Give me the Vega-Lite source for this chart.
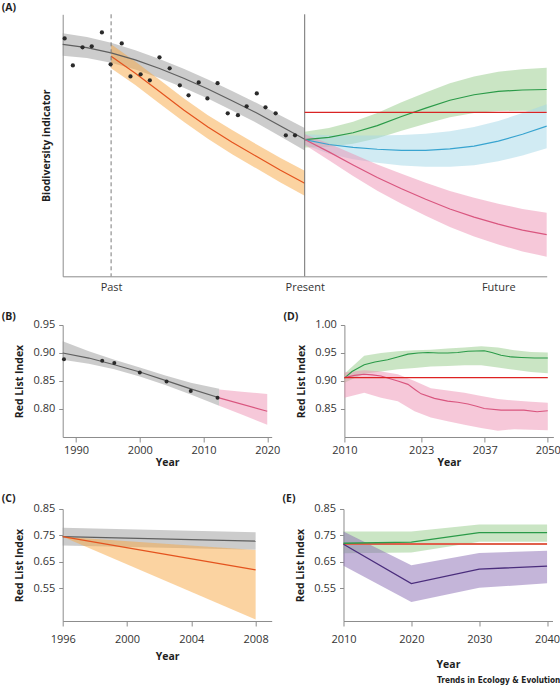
{
 "$schema": "https://vega.github.io/schema/vega-lite/v6.json",
 "padding": {"left": 1.7, "top": 2.3, "right": 0, "bottom": 0},
 "background": "white",
 "config": {
  "view": {"stroke": null},
  "font": "Open Sans",
  "axis": {"grid": false, "domainColor": "#8c8c8c", "tickColor": "#8c8c8c", "labelColor": "#333333", "labelFont": "Open Sans", "labelFontSize": 11, "titleFont": "Open Sans", "titleFontSize": 10.5, "titleFontWeight": "bold", "titleColor": "#1e1e1e", "minExtent": 0, "labelFlush": false, "labelOverlap": false},
  "title": {"anchor": "start", "frame": "group", "font": "Open Sans", "fontSize": 10.5, "fontWeight": "bold", "color": "#1e1e1e", "dx": -61}
 },
 "title": {"text": "Trends in Ecology & Evolution", "orient": "bottom", "anchor": "end", "frame": "bounds", "dx": 0, "offset": 7, "font": "Liberation Sans Narrow, DejaVu Sans Condensed, sans-serif", "fontSize": 8.2, "fontWeight": "bold", "color": "#222222"},
 "datasets": {
  "a_c": [
   {"s":"gray","x":0,"v":88.5,"lo":84.2,"hi":92.8},
   {"s":"gray","x":5,"v":87.3,"lo":83.3,"hi":91.3},
   {"s":"gray","x":10,"v":85.3,"lo":81.5,"hi":89.1},
   {"s":"gray","x":15,"v":82.6,"lo":78.9,"hi":86.3},
   {"s":"gray","x":20,"v":79.3,"lo":75.7,"hi":82.9},
   {"s":"gray","x":25,"v":75.6,"lo":72.0,"hi":79.2},
   {"s":"gray","x":30,"v":71.5,"lo":67.9,"hi":75.1},
   {"s":"gray","x":35,"v":67.0,"lo":63.3,"hi":70.7},
   {"s":"gray","x":40,"v":62.4,"lo":58.6,"hi":66.2},
   {"s":"gray","x":45,"v":57.4,"lo":53.4,"hi":61.4},
   {"s":"gray","x":50,"v":52.3,"lo":48.0,"hi":56.6},
   {"s":"orange","x":10,"v":84.0,"lo":79.4,"hi":88.6},
   {"s":"orange","x":15,"v":77.5,"lo":73.0,"hi":82.0},
   {"s":"orange","x":20,"v":70.5,"lo":66.0,"hi":75.0},
   {"s":"orange","x":25,"v":63.5,"lo":59.0,"hi":68.0},
   {"s":"orange","x":30,"v":57.0,"lo":52.5,"hi":61.5},
   {"s":"orange","x":35,"v":51.2,"lo":46.6,"hi":55.8},
   {"s":"orange","x":40,"v":45.8,"lo":41.2,"hi":50.4},
   {"s":"orange","x":45,"v":40.5,"lo":35.8,"hi":45.2},
   {"s":"orange","x":50,"v":35.5,"lo":30.7,"hi":40.3},
   {"s":"green","x":50,"v":52.2,"lo":49.2,"hi":55.2},
   {"s":"green","x":55,"v":53.0,"lo":49.4,"hi":56.6},
   {"s":"green","x":60,"v":54.8,"lo":50.6,"hi":59.0},
   {"s":"green","x":65,"v":57.5,"lo":52.7,"hi":62.3},
   {"s":"green","x":70,"v":61.0,"lo":55.6,"hi":66.4},
   {"s":"green","x":75,"v":64.2,"lo":58.2,"hi":70.2},
   {"s":"green","x":80,"v":67.2,"lo":60.7,"hi":73.7},
   {"s":"green","x":85,"v":69.3,"lo":62.3,"hi":76.3},
   {"s":"green","x":90,"v":70.6,"lo":63.1,"hi":78.1},
   {"s":"green","x":95,"v":71.1,"lo":63.2,"hi":79.0},
   {"s":"green","x":100,"v":71.3,"lo":63.0,"hi":79.6},
   {"s":"blue","x":50,"v":52.2,"lo":50.2,"hi":54.2},
   {"s":"blue","x":55,"v":50.3,"lo":46.8,"hi":53.8},
   {"s":"blue","x":60,"v":49.2,"lo":44.7,"hi":53.7},
   {"s":"blue","x":65,"v":48.5,"lo":43.3,"hi":53.7},
   {"s":"blue","x":70,"v":48.1,"lo":42.3,"hi":53.9},
   {"s":"blue","x":75,"v":48.1,"lo":41.8,"hi":54.4},
   {"s":"blue","x":80,"v":48.6,"lo":41.8,"hi":55.4},
   {"s":"blue","x":85,"v":49.7,"lo":42.4,"hi":57.0},
   {"s":"blue","x":90,"v":51.6,"lo":43.9,"hi":59.3},
   {"s":"blue","x":95,"v":54.2,"lo":46.1,"hi":62.3},
   {"s":"blue","x":100,"v":57.3,"lo":48.9,"hi":65.7},
   {"s":"pink","x":50,"v":52.2,"lo":50.2,"hi":54.2},
   {"s":"pink","x":55,"v":47.5,"lo":44.3,"hi":50.7},
   {"s":"pink","x":60,"v":42.5,"lo":38.3,"hi":46.7},
   {"s":"pink","x":65,"v":37.7,"lo":32.7,"hi":42.7},
   {"s":"pink","x":70,"v":33.4,"lo":27.7,"hi":39.1},
   {"s":"pink","x":75,"v":29.4,"lo":23.1,"hi":35.7},
   {"s":"pink","x":80,"v":25.7,"lo":18.8,"hi":32.6},
   {"s":"pink","x":85,"v":22.6,"lo":15.2,"hi":30.0},
   {"s":"pink","x":90,"v":19.9,"lo":12.1,"hi":27.7},
   {"s":"pink","x":95,"v":17.6,"lo":9.5,"hi":25.7},
   {"s":"pink","x":100,"v":15.9,"lo":7.5,"hi":24.3}
  ],
  "a_p": [
   {"x":0.4,"v":90.8},{"x":2.1,"v":80.5},{"x":4.1,"v":87.4},{"x":6.0,"v":87.8},{"x":8.1,"v":93.1},
   {"x":9.9,"v":80.9},{"x":12.2,"v":88.9},{"x":14.0,"v":76.3},{"x":16.1,"v":77.1},{"x":18.0,"v":74.8},
   {"x":20.0,"v":83.6},{"x":22.1,"v":79.4},{"x":24.2,"v":72.9},{"x":26.0,"v":69.1},{"x":28.1,"v":74.0},
   {"x":29.9,"v":67.9},{"x":32.0,"v":73.7},{"x":34.1,"v":62.2},{"x":36.2,"v":61.5},{"x":38.0,"v":64.9},
   {"x":40.1,"v":69.8},{"x":41.9,"v":64.5},{"x":44.0,"v":62.2},{"x":46.1,"v":53.8},{"x":48.0,"v":53.8}
  ],
  "a_past": [{"x": 10}],
  "a_pres": [{"x": 50}],
  "a_red": [{"x": 50, "v": 62.6}, {"x": 100, "v": 62.6}],
  "b_band": [
   {"s":"gray","x":1987.9,"lo":0.888,"hi":0.921},
   {"s":"gray","x":1992,"lo":0.881,"hi":0.903},
   {"s":"gray","x":1996,"lo":0.871,"hi":0.888},
   {"s":"gray","x":2000,"lo":0.858,"hi":0.874},
   {"s":"gray","x":2004,"lo":0.843,"hi":0.860},
   {"s":"gray","x":2008,"lo":0.826,"hi":0.847},
   {"s":"gray","x":2012.45,"lo":0.806,"hi":0.836},
   {"s":"pink","x":2012.45,"lo":0.806,"hi":0.835},
   {"s":"pink","x":2016,"lo":0.790,"hi":0.831},
   {"s":"pink","x":2020,"lo":0.772,"hi":0.827}
  ],
  "b_line": [
   {"s":"gray","x":1987.9,"v":0.900},
   {"s":"gray","x":1992,"v":0.891},
   {"s":"gray","x":1996,"v":0.879},
   {"s":"gray","x":2000,"v":0.866},
   {"s":"gray","x":2004,"v":0.851},
   {"s":"gray","x":2008,"v":0.836},
   {"s":"gray","x":2012.45,"v":0.820},
   {"s":"pink","x":2012.45,"v":0.820},
   {"s":"pink","x":2020,"v":0.796}
  ],
  "b_p": [
   {"x":1988.1,"v":0.889},{"x":1994.1,"v":0.886},{"x":1996.0,"v":0.882},{"x":2000.0,"v":0.865},
   {"x":2004.2,"v":0.849},{"x":2008.0,"v":0.832},{"x":2012.2,"v":0.820}
  ],
  "d_band": [
   {"s":"green","x":2010,"lo":0.897,"hi":0.913},
   {"s":"green","x":2013.9,"lo":0.913,"hi":0.945},
   {"s":"green","x":2017.2,"lo":0.917,"hi":0.950},
   {"s":"green","x":2020.5,"lo":0.921,"hi":0.953},
   {"s":"green","x":2023.8,"lo":0.923,"hi":0.955},
   {"s":"green","x":2027,"lo":0.926,"hi":0.956},
   {"s":"green","x":2030.3,"lo":0.927,"hi":0.958},
   {"s":"green","x":2033.6,"lo":0.928,"hi":0.960},
   {"s":"green","x":2036.9,"lo":0.928,"hi":0.962},
   {"s":"green","x":2040.2,"lo":0.924,"hi":0.960},
   {"s":"green","x":2043.4,"lo":0.920,"hi":0.955},
   {"s":"green","x":2046.7,"lo":0.916,"hi":0.952},
   {"s":"green","x":2050,"lo":0.914,"hi":0.951},
   {"s":"pink","x":2010,"lo":0.870,"hi":0.915},
   {"s":"pink","x":2013.9,"lo":0.879,"hi":0.919},
   {"s":"pink","x":2017.2,"lo":0.870,"hi":0.917},
   {"s":"pink","x":2020.5,"lo":0.864,"hi":0.912},
   {"s":"pink","x":2023.8,"lo":0.846,"hi":0.900},
   {"s":"pink","x":2027,"lo":0.835,"hi":0.887},
   {"s":"pink","x":2030.3,"lo":0.828,"hi":0.883},
   {"s":"pink","x":2033.6,"lo":0.822,"hi":0.879},
   {"s":"pink","x":2036.9,"lo":0.816,"hi":0.873},
   {"s":"pink","x":2040.2,"lo":0.811,"hi":0.868},
   {"s":"pink","x":2043.4,"lo":0.814,"hi":0.865},
   {"s":"pink","x":2046.7,"lo":0.813,"hi":0.863},
   {"s":"pink","x":2050,"lo":0.812,"hi":0.861}
  ],
  "d_line": [
   {"s":"green","x":2010,"v":0.905},{"s":"green","x":2011.5,"v":0.917},{"s":"green","x":2013.9,"v":0.929},
   {"s":"green","x":2016,"v":0.934},{"s":"green","x":2018.5,"v":0.938},{"s":"green","x":2020.5,"v":0.943},
   {"s":"green","x":2022.5,"v":0.948},{"s":"green","x":2024.5,"v":0.950},{"s":"green","x":2026.4,"v":0.951},
   {"s":"green","x":2028.5,"v":0.950},{"s":"green","x":2030.3,"v":0.950},{"s":"green","x":2032.3,"v":0.951},
   {"s":"green","x":2034.3,"v":0.953},{"s":"green","x":2037.5,"v":0.954},{"s":"green","x":2039,"v":0.951},
   {"s":"green","x":2040.8,"v":0.946},{"s":"green","x":2042.8,"v":0.943},{"s":"green","x":2044.8,"v":0.942},
   {"s":"green","x":2047.4,"v":0.941},{"s":"green","x":2050,"v":0.941},
   {"s":"pink","x":2010,"v":0.906},{"s":"pink","x":2012,"v":0.910},{"s":"pink","x":2013.9,"v":0.912},
   {"s":"pink","x":2015.5,"v":0.911},{"s":"pink","x":2017.2,"v":0.909},{"s":"pink","x":2019,"v":0.904},
   {"s":"pink","x":2020.5,"v":0.900},{"s":"pink","x":2022.5,"v":0.894},{"s":"pink","x":2024,"v":0.884},
   {"s":"pink","x":2025.1,"v":0.877},{"s":"pink","x":2027.7,"v":0.869},{"s":"pink","x":2030.3,"v":0.864},
   {"s":"pink","x":2032.3,"v":0.862},{"s":"pink","x":2034.3,"v":0.859},{"s":"pink","x":2036,"v":0.855},
   {"s":"pink","x":2037.5,"v":0.851},{"s":"pink","x":2040.8,"v":0.848},{"s":"pink","x":2043,"v":0.848},
   {"s":"pink","x":2045.3,"v":0.848},{"s":"pink","x":2047.9,"v":0.845},{"s":"pink","x":2050,"v":0.847}
  ],
  "d_red": [{"x": 2010, "v": 0.906}, {"x": 2050, "v": 0.906}],
  "c_band": [
   {"s":"gray","x":1996,"lo":0.711,"hi":0.779},
   {"s":"gray","x":2008,"lo":0.695,"hi":0.762},
   {"s":"orange","x":1996,"lo":0.745,"hi":0.745},
   {"s":"orange","x":2008,"lo":0.431,"hi":0.694}
  ],
  "c_line": [
   {"s":"gray","x":1996,"v":0.745},{"s":"gray","x":2008,"v":0.728},
   {"s":"orange","x":1996,"v":0.745},{"s":"orange","x":2008,"v":0.619}
  ],
  "e_band": [
   {"s":"green","x":2010,"lo":0.682,"hi":0.765},
   {"s":"green","x":2020,"lo":0.685,"hi":0.765},
   {"s":"green","x":2030,"lo":0.726,"hi":0.791},
   {"s":"green","x":2040,"lo":0.726,"hi":0.791},
   {"s":"purple","x":2010,"lo":0.635,"hi":0.765},
   {"s":"purple","x":2020,"lo":0.497,"hi":0.637},
   {"s":"purple","x":2030,"lo":0.551,"hi":0.683},
   {"s":"purple","x":2040,"lo":0.568,"hi":0.692}
  ],
  "e_line": [
   {"s":"green","x":2010,"v":0.720},{"s":"green","x":2020,"v":0.724},{"s":"green","x":2030,"v":0.760},{"s":"green","x":2040,"v":0.760},
   {"s":"purple","x":2010,"v":0.716},{"s":"purple","x":2020,"v":0.567},{"s":"purple","x":2030,"v":0.622},{"s":"purple","x":2040,"v":0.633}
  ],
  "e_red": [{"x": 2010, "v": 0.717}, {"x": 2040, "v": 0.717}]
 },
 "spacing": 19.7,
 "vconcat": [
  {"vconcat": [
   {
    "title": {"text": "(A)", "offset": 0.5},
    "width": 484, "height": 262,
    "encoding": {"x": {"field": "x", "type": "quantitative", "title": null, "scale": {"domain": [0, 100], "nice": false, "zero": false}, "axis": {"values": [10, 50, 90], "labelExpr": "datum.value == 10 ? 'Past' : (datum.value == 50 ? 'Present' : 'Future')", "ticks": false, "tickSize": 0, "labelPadding": 5}}},
    "layer": [
     {"data": {"name": "a_c"}, "mark": {"type": "area", "opacity": 0.5},
      "encoding": {
       "y": {"field": "lo", "type": "quantitative", "title": "Biodiversity indicator", "scale": {"domain": [0, 100], "nice": false, "zero": false}, "axis": {"ticks": false, "tickSize": 0, "labels": false, "titlePadding": 11}},
       "y2": {"field": "hi"},
       "fill": {"field": "s", "type": "nominal", "legend": null, "scale": {"domain": ["gray","orange","green","blue","pink","purple"], "range": ["#9a9a9a","#f8a743","#96cc8a","#a3d8e8","#ee92b3","#8a6cb4"]}}
      }},
     {"data": {"name": "a_c"}, "mark": {"type": "line", "strokeWidth": 1.2},
      "encoding": {
       "y": {"field": "v", "type": "quantitative", "title": "Biodiversity indicator", "scale": {"domain": [0, 100], "nice": false, "zero": false}, "axis": {"ticks": false, "tickSize": 0, "labels": false, "titlePadding": 11}},
       "stroke": {"field": "s", "type": "nominal", "legend": null, "scale": {"domain": ["gray","orange","green","blue","pink","purple"], "range": ["#5f5f5f","#e4531e","#2a9a48","#38a4d0","#d9567f","#4a2d7c"]}}
      }},
     {"data": {"name": "a_past"}, "mark": {"type": "rule", "strokeDash": [4, 3], "color": "#7a7a7a", "strokeWidth": 1}, "encoding": {}},
     {"data": {"name": "a_pres"}, "mark": {"type": "rule", "color": "#6e6e6e", "strokeWidth": 1}, "encoding": {}},
     {"data": {"name": "a_p"}, "mark": {"type": "circle", "size": 18, "color": "#2a2a2a", "opacity": 1},
      "encoding": {
       "y": {"field": "v", "type": "quantitative", "title": "Biodiversity indicator", "scale": {"domain": [0, 100], "nice": false, "zero": false}, "axis": {"ticks": false, "tickSize": 0, "labels": false, "titlePadding": 11}}
      }},
     {"data": {"name": "a_red"}, "mark": {"type": "line", "color": "#d92424", "strokeWidth": 1.3},
      "encoding": {
       "y": {"field": "v", "type": "quantitative", "title": "Biodiversity indicator", "scale": {"domain": [0, 100], "nice": false, "zero": false}, "axis": {"ticks": false, "tickSize": 0, "labels": false, "titlePadding": 11}}
      }}
    ]
   }
  ]},
  {"spacing": 25, "vconcat": [
   {"spacing": 2.7, "hconcat": [
    {
     "title": {"text": "(B)", "offset": -3.7},
     "width": 209, "height": 112,
     "encoding": {"x": {"field": "x", "type": "quantitative", "title": "Year", "scale": {"domain": [1987.9, 2020.7], "nice": false, "zero": false}, "axis": {"values": [1990, 2000, 2010, 2020], "format": "d", "tickSize": 5, "labelPadding": 3, "titlePadding": 2}}},
     "layer": [
      {"data": {"name": "b_band"}, "mark": {"type": "area", "opacity": 0.5},
       "encoding": {
        "y": {"field": "lo", "type": "quantitative", "title": "Red List Index", "scale": {"domain": [0.75, 0.95], "nice": false, "zero": false}, "axis": {"values": [0.8, 0.85, 0.9, 0.95], "format": ".2f", "tickSize": 4, "labelPadding": 4, "titlePadding": 8}},
        "y2": {"field": "hi"},
        "fill": {"field": "s", "type": "nominal", "legend": null, "scale": {"domain": ["gray","orange","green","blue","pink","purple"], "range": ["#9a9a9a","#f8a743","#96cc8a","#a3d8e8","#ee92b3","#8a6cb4"]}}
       }},
      {"data": {"name": "b_line"}, "mark": {"type": "line", "strokeWidth": 1.2},
       "encoding": {
        "y": {"field": "v", "type": "quantitative", "title": "Red List Index", "scale": {"domain": [0.75, 0.95], "nice": false, "zero": false}, "axis": {"values": [0.8, 0.85, 0.9, 0.95], "format": ".2f", "tickSize": 4, "labelPadding": 4, "titlePadding": 8}},
        "stroke": {"field": "s", "type": "nominal", "legend": null, "scale": {"domain": ["gray","orange","green","blue","pink","purple"], "range": ["#5f5f5f","#e4531e","#2a9a48","#38a4d0","#d9567f","#4a2d7c"]}}
       }},
      {"data": {"name": "b_p"}, "mark": {"type": "circle", "size": 16, "color": "#2a2a2a", "opacity": 1},
       "encoding": {
        "y": {"field": "v", "type": "quantitative", "title": "Red List Index", "scale": {"domain": [0.75, 0.95], "nice": false, "zero": false}, "axis": {"values": [0.8, 0.85, 0.9, 0.95], "format": ".2f", "tickSize": 4, "labelPadding": 4, "titlePadding": 8}}
       }}
     ]
    },
    {
     "title": {"text": "(D)", "offset": -3.7},
     "width": 209, "height": 112,
     "encoding": {"x": {"field": "x", "type": "quantitative", "title": "Year", "scale": {"domain": [2010, 2051.1], "nice": false, "zero": false}, "axis": {"values": [2010, 2025.1, 2037.6, 2050], "labelExpr": "datum.value < 2020 ? '2010' : (datum.value < 2030 ? '2023' : (datum.value < 2045 ? '2037' : '2050'))", "tickSize": 5, "labelPadding": 3, "titlePadding": 2}}},
     "layer": [
      {"data": {"name": "d_band"}, "mark": {"type": "area", "opacity": 0.5},
       "encoding": {
        "y": {"field": "lo", "type": "quantitative", "title": "Red List Index", "scale": {"domain": [0.8, 1.0], "nice": false, "zero": false}, "axis": {"values": [0.85, 0.9, 0.95, 1.0], "format": ".2f", "tickSize": 4, "labelPadding": 4, "titlePadding": 8}},
        "y2": {"field": "hi"},
        "fill": {"field": "s", "type": "nominal", "legend": null, "scale": {"domain": ["gray","orange","green","blue","pink","purple"], "range": ["#9a9a9a","#f8a743","#96cc8a","#a3d8e8","#ee92b3","#8a6cb4"]}}
       }},
      {"data": {"name": "d_line"}, "mark": {"type": "line", "strokeWidth": 1.1},
       "encoding": {
        "y": {"field": "v", "type": "quantitative", "title": "Red List Index", "scale": {"domain": [0.8, 1.0], "nice": false, "zero": false}, "axis": {"values": [0.85, 0.9, 0.95, 1.0], "format": ".2f", "tickSize": 4, "labelPadding": 4, "titlePadding": 8}},
        "stroke": {"field": "s", "type": "nominal", "legend": null, "scale": {"domain": ["gray","orange","green","blue","pink","purple"], "range": ["#5f5f5f","#e4531e","#2a9a48","#38a4d0","#d9567f","#4a2d7c"]}}
       }},
      {"data": {"name": "d_red"}, "mark": {"type": "line", "color": "#dd2222", "strokeWidth": 1.3},
       "encoding": {
        "y": {"field": "v", "type": "quantitative", "title": "Red List Index", "scale": {"domain": [0.8, 1.0], "nice": false, "zero": false}, "axis": {"values": [0.85, 0.9, 0.95, 1.0], "format": ".2f", "tickSize": 4, "labelPadding": 4, "titlePadding": 8}}
       }}
     ]
    }
   ]},
   {"spacing": 10.8, "hconcat": [
    {
     "title": {"text": "(C)", "offset": -1.8},
     "width": 209, "height": 112,
     "encoding": {"x": {"field": "x", "type": "quantitative", "title": "Year", "scale": {"domain": [1996, 2009], "nice": false, "zero": false}, "axis": {"values": [1996, 2000, 2004, 2008], "format": "d", "tickSize": 5, "labelPadding": 8, "titlePadding": 7}}},
     "layer": [
      {"data": {"name": "c_band"}, "mark": {"type": "area", "opacity": 0.5},
       "encoding": {
        "y": {"field": "lo", "type": "quantitative", "title": "Red List Index", "scale": {"domain": [0.425, 0.85], "nice": false, "zero": false}, "axis": {"values": [0.55, 0.65, 0.75, 0.85], "format": ".2f", "tickSize": 4, "labelPadding": 4, "titlePadding": 8}},
        "y2": {"field": "hi"},
        "fill": {"field": "s", "type": "nominal", "legend": null, "scale": {"domain": ["gray","orange","green","blue","pink","purple"], "range": ["#9a9a9a","#f8a743","#96cc8a","#a3d8e8","#ee92b3","#8a6cb4"]}}
       }},
      {"data": {"name": "c_line"}, "mark": {"type": "line", "strokeWidth": 1.2},
       "encoding": {
        "y": {"field": "v", "type": "quantitative", "title": "Red List Index", "scale": {"domain": [0.425, 0.85], "nice": false, "zero": false}, "axis": {"values": [0.55, 0.65, 0.75, 0.85], "format": ".2f", "tickSize": 4, "labelPadding": 4, "titlePadding": 8}},
        "stroke": {"field": "s", "type": "nominal", "legend": null, "scale": {"domain": ["gray","orange","green","blue","pink","purple"], "range": ["#5f5f5f","#e4531e","#2a9a48","#38a4d0","#d9567f","#4a2d7c"]}}
       }}
     ]
    },
    {
     "title": {"text": "(E)", "offset": -1.8},
     "width": 209, "height": 112,
     "encoding": {"x": {"field": "x", "type": "quantitative", "title": "Year", "scale": {"domain": [2010, 2040.8], "nice": false, "zero": false}, "axis": {"values": [2010, 2020, 2030, 2040], "format": "d", "tickSize": 5, "labelPadding": 8, "titlePadding": 15}}},
     "layer": [
      {"data": {"name": "e_band"}, "mark": {"type": "area", "opacity": 0.5},
       "encoding": {
        "y": {"field": "lo", "type": "quantitative", "title": "Red List Index", "scale": {"domain": [0.425, 0.85], "nice": false, "zero": false}, "axis": {"values": [0.55, 0.65, 0.75, 0.85], "format": ".2f", "tickSize": 4, "labelPadding": 4, "titlePadding": 8}},
        "y2": {"field": "hi"},
        "fill": {"field": "s", "type": "nominal", "legend": null, "scale": {"domain": ["gray","orange","green","blue","pink","purple"], "range": ["#9a9a9a","#f8a743","#96cc8a","#a3d8e8","#ee92b3","#8a6cb4"]}}
       }},
      {"data": {"name": "e_red"}, "mark": {"type": "line", "color": "#e0604c", "strokeWidth": 2},
       "encoding": {
        "y": {"field": "v", "type": "quantitative", "title": "Red List Index", "scale": {"domain": [0.425, 0.85], "nice": false, "zero": false}, "axis": {"values": [0.55, 0.65, 0.75, 0.85], "format": ".2f", "tickSize": 4, "labelPadding": 4, "titlePadding": 8}}
       }},
      {"data": {"name": "e_line"}, "mark": {"type": "line", "strokeWidth": 1.3},
       "encoding": {
        "y": {"field": "v", "type": "quantitative", "title": "Red List Index", "scale": {"domain": [0.425, 0.85], "nice": false, "zero": false}, "axis": {"values": [0.55, 0.65, 0.75, 0.85], "format": ".2f", "tickSize": 4, "labelPadding": 4, "titlePadding": 8}},
        "stroke": {"field": "s", "type": "nominal", "legend": null, "scale": {"domain": ["gray","orange","green","blue","pink","purple"], "range": ["#5f5f5f","#e4531e","#2a9a48","#38a4d0","#d9567f","#4a2d7c"]}}
       }}
     ]
    }
   ]}
  ]}
 ]
}
